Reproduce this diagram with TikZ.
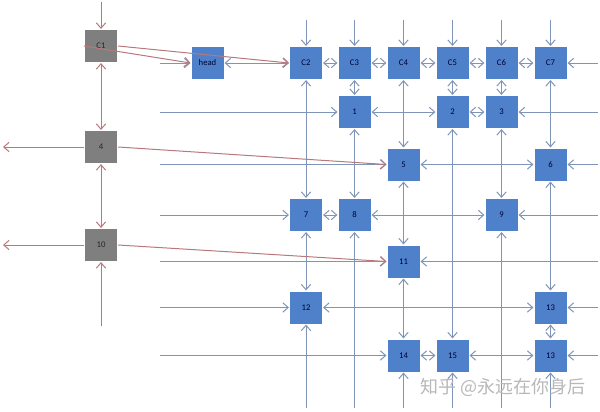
\documentclass[tikz,border=0pt]{standalone}
\usepackage{fontspec}
\setmainfont{Carlito}
\newfontfamily\cjk{Noto Sans CJK SC}
\usetikzlibrary{arrows.meta}
\definecolor{boxblue}{HTML}{4F81CB}
\definecolor{boxgray}{HTML}{7F7F7F}
\definecolor{lineblue}{HTML}{7F95B8}
\definecolor{linered}{HTML}{B8787C}
\tikzset{
	cell/.style={minimum size=24pt,inner sep=0pt,outer sep=0.8pt,text=black!80!blue,font=\fontsize{6.5}{7}\selectfont},
	bluecell/.style={cell,fill=boxblue},
	graycell/.style={cell,fill=boxgray,text=black!85},
	link/.style={lineblue,line width=0.75pt,-{Straight Barb[length=4pt,width=7pt]}},
	biglink/.style={link,{Straight Barb[length=4pt,width=7pt]}-{Straight Barb[length=4pt,width=7pt]}},
	redlink/.style={link,linered},
	bigred/.style={biglink,linered}
}
\begin{document}
\begin{tikzpicture}[x=0.75pt,y=-0.75pt]
	\useasboundingbox (0,0) rectangle (600,411);
	% cells
	\foreach \name/\x/\y/\lab in {C1/101/46/C1,n4/101/147/4,n10/101/245/10}
	{
		\node[graycell] (\name) at (\x,\y) {\lab};
	}
	\foreach \name/\x/\y/\lab in {head/207.5/63/head,C2/306/63/C2,C3/354.5/63/C3,C4/403.5/63/C4,C5/452.5/63/C5,C6/501.5/63/C6,C7/550.5/63/C7,
		n1/354.5/112/1,n2/452.5/112/2,n3/501.5/112/3,n5/403.5/164.5/5,n6/550.5/164.5/6,
		n7/306/215/7,n8/354.5/215/8,n9/501.5/215/9,n11/403.5/261.5/11,
		n12/306/307.5/12,n13a/550.5/307.5/13,n14/403.5/355.5/14,n15/452.5/355.5/15,n13b/550.5/355.5/13}
	{
		\node[bluecell] (\name) at (\x,\y) {\lab};
	}
	% free ends
	\foreach \name/\x in {C2/306,C3/354.5,C4/403.5,C5/452.5,C6/501.5,C7/550.5}
	{
		\coordinate (top\name) at (\x,20);
	}
	\foreach \name/\x in {n12/306,n8/354.5,n14/403.5,n15/452.5,n9/501.5,n13b/550.5}
	{
		\coordinate (bot\name) at (\x,408);
	}
	\foreach \name/\y in {head/63,n1/112,n5/164.5,n7/215,n11/261.5,n12/307.5,n14/355.5}
	{
		\coordinate (left\name) at (160,\y);
	}
	\foreach \name/\y in {C7/63,n3/112,n6/164.5,n9/215,n11/261.5,n13a/307.5,n13b/355.5}
	{
		\coordinate (right\name) at (598,\y);
	}
	\coordinate (topC1) at (101,2);
	\coordinate (botn10) at (101,326);
	\coordinate (leftn4) at (3,147);
	\coordinate (leftn10) at (3,245);
	% blue links
	\foreach \name in {C2,C3,C4,C5,C6,C7}
	{
		\draw[link] (top\name) -- (\name);
	}
	\foreach \name in {n12,n8,n14,n15,n9,n13b}
	{
		\draw[link] (bot\name) -- (\name);
	}
	\foreach \name in {head,n1,n5,n7,n11,n12,n14}
	{
		\draw[link] (left\name) -- (\name);
	}
	\foreach \name in {C7,n3,n6,n9,n11,n13a,n13b}
	{
		\draw[link] (right\name) -- (\name);
	}
	\foreach \a/\b in {head/C2,C2/C3,C3/C4,C4/C5,C5/C6,C6/C7,n1/n2,n2/n3,n5/n6,n7/n8,n8/n9,n12/n13a,n14/n15,n15/n13b,
		C2/n7,n7/n12,C3/n1,n1/n8,C4/n5,n5/n11,n11/n14,C5/n2,n2/n15,C6/n3,n3/n9,C7/n6,n6/n13a,n13a/n13b}
	{
		\draw[biglink] (\a) -- (\b);
	}
	% red links
	\draw[redlink] (topC1) -- (C1);
	\draw[bigred] (C1) -- (n4);
	\draw[bigred] (n4) -- (n10);
	\draw[redlink] (botn10) -- (n10);
	\draw[redlink] (n4) -- (leftn4);
	\draw[redlink] (n10) -- (leftn10);
	\draw[redlink] (C1.west) -- (head.west);
	\draw[redlink] (C1.east) -- (C2.west);
	\draw[redlink] (n4.east) -- (n5.west);
	\draw[redlink] (n10.east) -- (n11.west);
	\node[text=black!28,font=\cjk\fontsize{13.5}{14}\selectfont,inner sep=0pt] (mark) at (503,387) {知乎 @永远在你身后};
\end{tikzpicture}
\end{document}
